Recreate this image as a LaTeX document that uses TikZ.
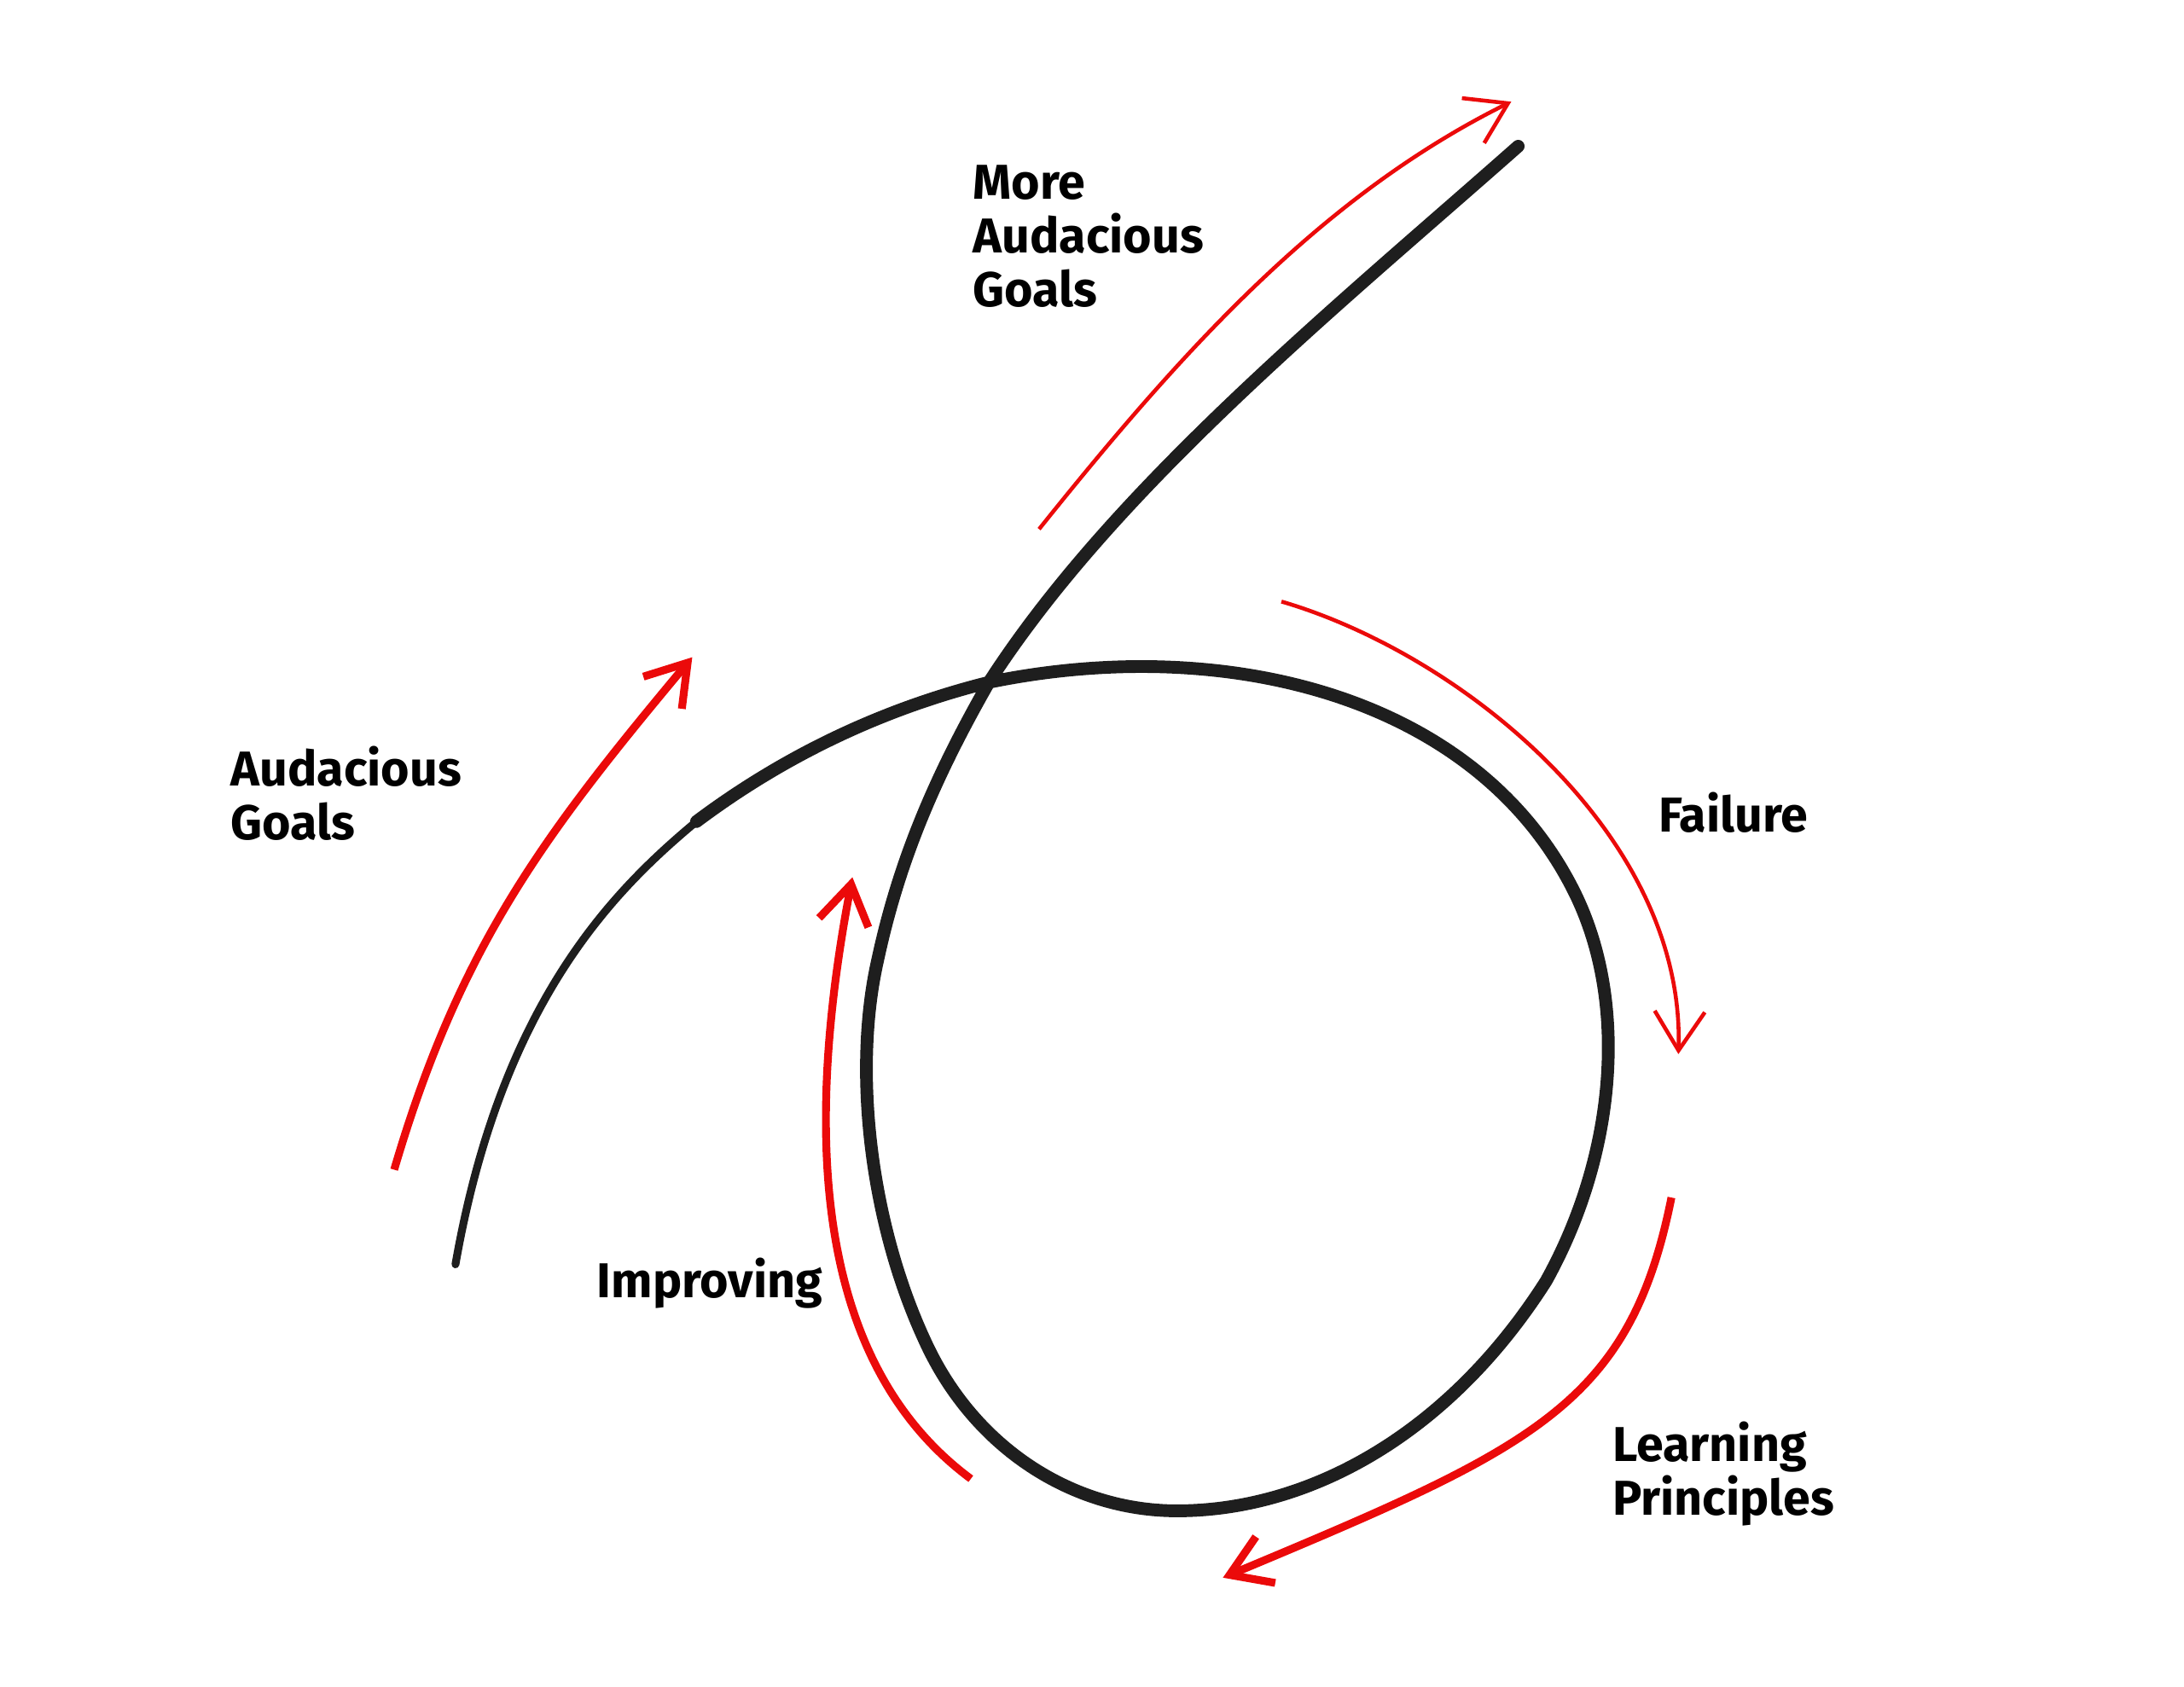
\documentclass[tikz,border=0pt]{standalone}
\usepackage{fontspec}
\setmainfont{Fira Sans}
\usetikzlibrary{arrows.meta,positioning}
\tikzset{>=Stealth}
\definecolor{loopcolor}{RGB}{30,30,30}
\definecolor{arrowcolor}{RGB}{235,10,10}

\begin{document}
\begin{tikzpicture}[x=0.1mm,y=-0.1mm]
  % Estilos
  \tikzset{
    lab/.style={font=\normalsize\bfseries,align=left,anchor=north west,inner sep=0pt},
    mainline/.style={draw=loopcolor,line width=2.6pt,line cap=round},
    tailline/.style={draw=loopcolor,line width=1.6pt,line cap=round},
    redarrow/.style={draw=arrowcolor,line width=1.6pt,-{Straight Barb[length=2.8mm,width=3.6mm]}},
    thinarrow/.style={draw=arrowcolor,line width=0.8pt,-{Straight Barb[length=2.8mm,width=3.6mm]}}
  }
  \useasboundingbox (0,0) rectangle (1568,1211);

  %================= TEXTOS =================
  \node[lab] (more) at (698,118) {More\\[-1pt]Audacious\\[-1pt]Goals};
  \node[lab] (goals) at (165,535) {Audacious\\[-1pt]Goals};
  \node[lab] (fail) at (1190,568) {Failure};
  \node[lab] (impr) at (428,903) {Improving};
  \node[lab] (learn) at (1157,1020) {Learning\\[-1pt]Principles};

  %================= CURVA PRINCIPAL =================
  \coordinate (tail) at (327,908);
  \coordinate (cross) at (710,490);
  \coordinate (tip) at (1090,105);
  \draw[tailline] (tail) .. controls (360,720) and (440,640) .. (500,590);
  \draw[mainline] (500,590) .. controls (560,545) and (630,510) .. (cross)
    .. controls (880,455) and (1060,500) .. (1130,640)
    .. controls (1170,720) and (1160,830) .. (1110,920)
    .. controls (1040,1030) and (940,1085) .. (845,1085)
    .. controls (770,1085) and (700,1040) .. (665,965)
    .. controls (625,880) and (612,770) .. (630,690)
    .. controls (645,620) and (670,560) .. (cross)
    .. controls (800,350) and (960,220) .. (tip);

  %================= FLECHAS =================
  \coordinate (a1s) at (283,840);  \coordinate (a1e) at (497,472);
  \draw[redarrow] (a1s) .. controls (330,680) and (390,600) .. (a1e);
  \coordinate (a2s) at (746,380);  \coordinate (a2e) at (1085,73);
  \draw[thinarrow] (a2s) .. controls (850,250) and (950,140) .. (a2e);
  \coordinate (a3s) at (920,432);  \coordinate (a3e) at (1205,757);
  \draw[thinarrow] (a3s) .. controls (1050,470) and (1210,600) .. (a3e);
  \coordinate (a4s) at (1200,860); \coordinate (a4e) at (878,1133);
  \draw[redarrow] (a4s) .. controls (1170,1010) and (1100,1040) .. (a4e);
  \coordinate (a5s) at (697,1062); \coordinate (a5e) at (612,630);
  \draw[redarrow] (a5s) .. controls (600,990) and (570,850) .. (a5e);
\end{tikzpicture}
\end{document}
